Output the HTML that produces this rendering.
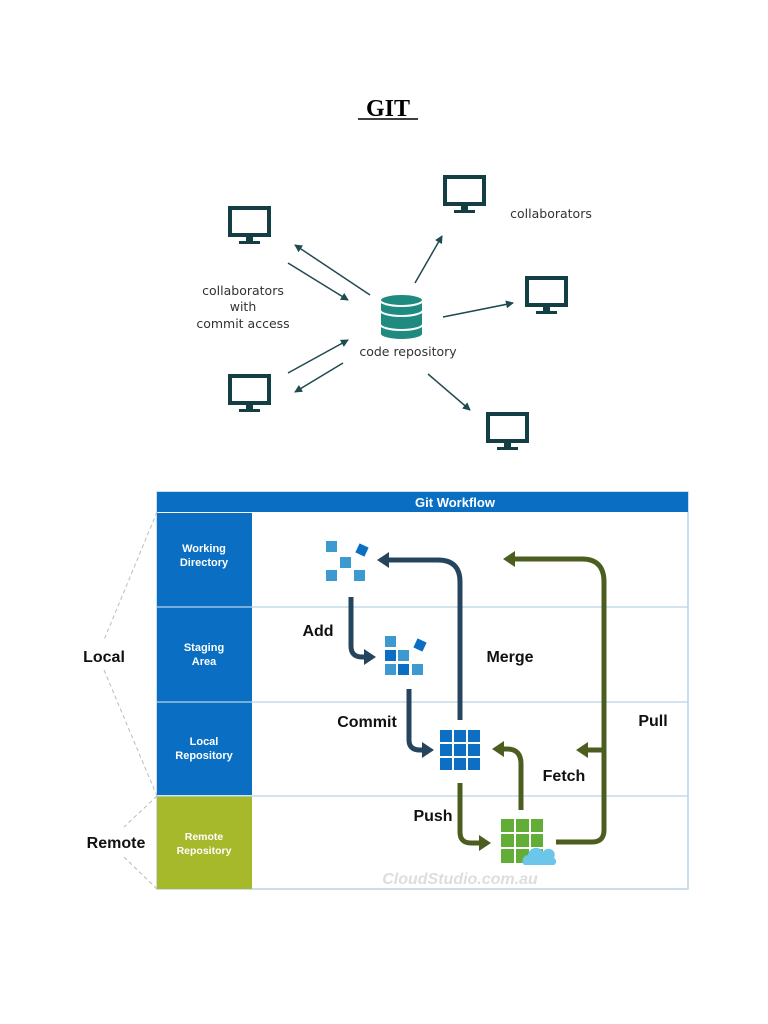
<!DOCTYPE html>
<html><head><meta charset="utf-8"><style>
html,body{margin:0;padding:0;background:#fff;width:768px;height:1024px;overflow:hidden}
svg{display:block}
.s{font-family:"DejaVu Sans","Liberation Sans",sans-serif}
.b{font-family:"Liberation Sans",sans-serif;font-weight:bold}
</style></head><body>
<svg width="768" height="1024" viewBox="0 0 768 1024" xmlns="http://www.w3.org/2000/svg">
<defs>
<g id="mon"><rect x="2" y="2" width="39" height="27" fill="none" stroke="#133f44" stroke-width="4"/><rect x="18" y="31" width="7" height="4" fill="#133f44"/><rect x="11" y="35" width="21" height="3" fill="#133f44"/></g>
<marker id="ah" markerWidth="8" markerHeight="8" refX="7" refY="4" orient="auto" markerUnits="userSpaceOnUse"><path d="M0,0 L8,4 L0,8 Z" fill="#1f4a4f"/></marker>
</defs>
<text x="388" y="116" text-anchor="middle" font-family="Liberation Serif,serif" font-weight="bold" font-size="24">GIT</text>
<line x1="358" y1="119" x2="418" y2="119" stroke="#000" stroke-width="1.5"/>

<use href="#mon" x="228" y="206"/>
<use href="#mon" x="443" y="175"/>
<use href="#mon" x="525" y="276"/>
<use href="#mon" x="228" y="374"/>
<use href="#mon" x="486" y="412"/>
<g fill="#1e8a80" stroke="#fff" stroke-width="2">
<path d="M380,326 v8 a21.5,6 0 0 0 43,0 v-8 z"/>
<path d="M380,312 v12 a21.5,6 0 0 0 43,0 v-12 z"/>
<path d="M380,300 v10 a21.5,6 0 0 0 43,0 v-10 z"/>
<ellipse cx="401.5" cy="300" rx="21.5" ry="6"/>
</g>
<text x="408" y="356" text-anchor="middle" class="s" font-size="12.5" fill="#333">code repository</text>
<text x="551" y="218" text-anchor="middle" class="s" font-size="12.5" fill="#333">collaborators</text>
<text class="s" font-size="12.5" fill="#333" text-anchor="middle"><tspan x="243" y="295">collaborators</tspan><tspan x="243" y="311">with</tspan><tspan x="243" y="328">commit access</tspan></text>
<g stroke="#1f4a4f" stroke-width="1.5" marker-end="url(#ah)">
<line x1="370" y1="295" x2="295" y2="245"/>
<line x1="288" y1="263" x2="348" y2="300"/>
<line x1="288" y1="373" x2="348" y2="340"/>
<line x1="343" y1="363" x2="295" y2="392"/>
<line x1="415" y1="283" x2="442" y2="236"/>
<line x1="443" y1="317" x2="513" y2="303"/>
<line x1="428" y1="374" x2="470" y2="410"/>
</g>

<!-- workflow -->
<rect x="157" y="492" width="531" height="397" fill="#fff" stroke="#b8d4e8" stroke-width="1.5"/>
<rect x="157" y="492" width="531" height="20" fill="#0a6fc2"/>
<text x="455" y="507" text-anchor="middle" class="b" font-size="13" fill="#fff">Git Workflow</text>
<rect x="157" y="513" width="95" height="282" fill="#0a6fc2"/>
<rect x="157" y="796" width="95" height="93" fill="#a6b92a"/>
<g stroke="#b8d4e8" stroke-width="1.2">
<line x1="157" y1="607" x2="688" y2="607"/><line x1="157" y1="702" x2="688" y2="702"/><line x1="157" y1="796" x2="688" y2="796"/>
</g>
<g class="b" font-size="11" fill="#fff" text-anchor="middle">
<text x="204" y="552">Working</text><text x="204" y="566">Directory</text>
<text x="204" y="651">Staging</text><text x="204" y="665">Area</text>
<text x="204" y="745">Local</text><text x="204" y="759">Repository</text>
<text x="204" y="840" font-size="10.5">Remote</text><text x="204" y="854" font-size="10.5">Repository</text>
</g>
<text x="104" y="662" text-anchor="middle" class="b" font-size="16" fill="#111">Local</text>
<text x="116" y="848" text-anchor="middle" class="b" font-size="16" fill="#111">Remote</text>
<g stroke="#bbb" stroke-width="1" stroke-dasharray="4,3" fill="none">
<path d="M157,512 L104,640"/><path d="M104,670 L157,796"/>
<path d="M157,796 L124,827"/><path d="M124,857 L157,889"/>
</g>

<!-- icons -->
<g fill="#3c9ad0">
<rect x="326" y="541" width="11" height="11"/><rect x="340" y="557" width="11" height="11"/><rect x="326" y="570" width="11" height="11"/><rect x="354" y="570" width="11" height="11"/>
</g>
<rect x="357" y="545" width="10" height="10" fill="#0a6fc2" transform="rotate(25 362 550)"/>
<g>
<rect x="385" y="636" width="11" height="11" fill="#3c9ad0"/>
<rect x="385" y="650" width="11" height="11" fill="#0a6fc2"/><rect x="398" y="650" width="11" height="11" fill="#3c9ad0"/>
<rect x="385" y="664" width="11" height="11" fill="#3c9ad0"/><rect x="398" y="664" width="11" height="11" fill="#0a6fc2"/><rect x="412" y="664" width="11" height="11" fill="#3c9ad0"/>
<rect x="415" y="640" width="10" height="10" fill="#0a6fc2" transform="rotate(25 420 645)"/>
</g>
<g fill="#0d6fc4">
<rect x="440" y="730" width="12" height="12"/><rect x="454" y="730" width="12" height="12"/><rect x="468" y="730" width="12" height="12"/>
<rect x="440" y="744" width="12" height="12"/><rect x="454" y="744" width="12" height="12"/><rect x="468" y="744" width="12" height="12"/>
<rect x="440" y="758" width="12" height="12"/><rect x="454" y="758" width="12" height="12"/><rect x="468" y="758" width="12" height="12"/>
</g>
<g fill="#62ad35">
<rect x="501" y="819" width="13" height="13"/><rect x="516" y="819" width="13" height="13"/><rect x="531" y="819" width="12" height="13"/>
<rect x="501" y="834" width="13" height="13"/><rect x="516" y="834" width="13" height="13"/><rect x="531" y="834" width="12" height="13"/>
<rect x="501" y="849" width="13" height="14"/><rect x="516" y="849" width="13" height="14"/><rect x="531" y="849" width="12" height="14"/>
</g>
<path d="M524,865 a6,6 0 0 1 4,-10 a8,8 0 0 1 15,-3 a6,6 0 0 1 11,6 a4,4 0 0 1 0,7 z" fill="#6cc6ea"/>

<!-- arrows -->
<g fill="none" stroke-width="5">
<path d="M351,597 V646 Q351,657 362,657 H368" stroke="#25455e"/>
<path d="M409,689 V740 Q409,750 420,750 H427" stroke="#25455e"/>
<path d="M460,720 V582 Q460,560 438,560 H385" stroke="#25455e"/>
<path d="M460,783 V832 Q460,843 471,843 H483" stroke="#4b5e1f"/>
<path d="M521,810 V764 Q521,749 507,749 H500" stroke="#4b5e1f"/>
<path d="M556,842 H592 Q604,842 604,830 V582 Q604,559 582,559 H512" stroke="#4b5e1f"/>
<path d="M604,750 H588" stroke="#4b5e1f"/>
</g>
<g>
<path d="M376,657 L364,649 L364,665 Z" fill="#25455e"/>
<path d="M434,750 L422,742 L422,758 Z" fill="#25455e"/>
<path d="M377,560 L389,552 L389,568 Z" fill="#25455e"/>
<path d="M491,843 L479,835 L479,851 Z" fill="#4b5e1f"/>
<path d="M492,749 L504,741 L504,757 Z" fill="#4b5e1f"/>
<path d="M503,559 L515,551 L515,567 Z" fill="#4b5e1f"/>
<path d="M576,750 L588,742 L588,758 Z" fill="#4b5e1f"/>
</g>
<g class="b" font-size="16" fill="#111">
<text x="318" y="636" text-anchor="middle">Add</text>
<text x="510" y="662" text-anchor="middle">Merge</text>
<text x="367" y="727" text-anchor="middle">Commit</text>
<text x="653" y="726" text-anchor="middle">Pull</text>
<text x="564" y="781" text-anchor="middle">Fetch</text>
<text x="433" y="821" text-anchor="middle">Push</text>
</g>
<text x="460" y="884" text-anchor="middle" class="b" font-style="italic" font-size="16" fill="#ddd">CloudStudio.com.au</text>
</svg>
</body></html>
